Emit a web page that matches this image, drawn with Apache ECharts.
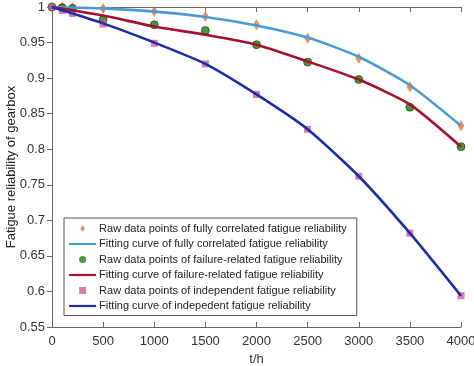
<!DOCTYPE html>
<html><head><meta charset="utf-8">
<script src="https://cdn.jsdelivr.net/npm/echarts@6/dist/echarts.min.js"></script>
<style>html,body{margin:0;padding:0;background:#fff}#c{width:474px;height:366px}</style>
</head><body><div id="c"></div>
<script>
var hours = [0,100,200,500,1000,1500,2000,2500,3000,3500,4000];
var rawFull = [1,1,0.999,0.998,0.9935,0.9865,0.975,0.956,0.928,0.888,0.833];
var rawFailure = [1,0.999,0.998,0.982,0.975,0.967,0.947,0.9225,0.898,0.859,0.8035];
var rawIndep = [1,0.995,0.991,0.976,0.949,0.92,0.877,0.828,0.762,0.682,0.594];
var fitHours = [0,500,1000,1500,2000,2500,3000,3500,4000];
var fitFull = [1,0.998,0.9935,0.986,0.974,0.957,0.930,0.890,0.833];
var fitFailure = [1,0.988,0.9725,0.961,0.947,0.9235,0.898,0.863,0.8035];
var fitIndep = [1,0.977,0.950,0.920,0.877,0.828,0.762,0.682,0.594];
var names = [
 'Raw data points of fully correlated fatigue reliability',
 'Fitting curve of fully correlated fatigue reliability',
 'Raw data points of failure-related fatigue reliability',
 'Fitting curve of failure-related fatigue reliability',
 'Raw data points of independent fatigue reliability',
 'Fitting curve of indepedent fatigue reliability'
];
function pairs(xs, ys){ return xs.map(function(x,i){return [x, ys[i]];}); }
var font = 'Liberation Sans, Arial, sans-serif';
var axisCol = '#666';
var hide = {color:'rgba(0,0,0,0)', borderWidth:0, opacity:0};
var legendData = [
  {name:names[0], icon:'path://M4,0L8,6L4,12L0,6Z', itemStyle:{color:'#e8782e', borderWidth:0}},
  {name:names[1], itemStyle:hide, lineStyle:{width:2.2}},
  {name:names[2], icon:'path://M5,0A5,5,0,1,1,5,10A5,5,0,1,1,5,0Z', itemStyle:{color:'#1d7a12', borderWidth:0}},
  {name:names[3], itemStyle:hide, lineStyle:{width:2.2}},
  {name:names[4], icon:'path://M0,0L10,0L10,10L0,10Z', itemStyle:{color:'#d8589c', borderWidth:0}},
  {name:names[5], itemStyle:hide, lineStyle:{width:2.2}}
];
var chart = echarts.init(document.getElementById('c'), null, {renderer:'canvas'});
chart.setOption({
  animation:false,
  grid:{left:52,right:13,top:7,bottom:39, containLabel:false, outerBoundsMode:'none'},
  legend:{
    orient:'vertical', left:64, top:218,
    data:legendData,
    itemWidth:27, itemHeight:7, itemGap:4.5,
    symbolKeepAspect:true,
    padding:[5,10,4,4],
    backgroundColor:'#fff', borderColor:'#555', borderWidth:1,
    textStyle:{fontFamily:font, fontSize:11, color:'#222', padding:[0,0,0,-2]}
  },
  xAxis:[{
    type:'value', min:0, max:4000, interval:500,
    name:'t/h', nameLocation:'middle', nameGap:26,
    nameTextStyle:{fontFamily:font, fontSize:13, color:'#333'},
    axisLine:{lineStyle:{color:axisCol}},
    axisTick:{inside:true, length:5, lineStyle:{color:axisCol}},
    axisLabel:{fontFamily:font, fontSize:13, color:'#333', margin:8, formatter:function(v){return String(v);}},
    splitLine:{show:false}
  },{
    type:'value', min:0, max:4000, interval:500, position:'top',
    axisLine:{lineStyle:{color:axisCol}},
    axisTick:{inside:true, length:5, lineStyle:{color:axisCol}},
    axisLabel:{show:false}, splitLine:{show:false}
  }],
  yAxis:[{
    type:'value', min:0.55, max:1, interval:0.05,
    name:'Fatigue reliability of gearbox', nameLocation:'middle', nameGap:34, nameMoveOverlap:false,
    nameTextStyle:{fontFamily:font, fontSize:13, color:'#222'},
    axisLine:{show:true, lineStyle:{color:axisCol}},
    axisTick:{show:true, inside:false, length:4, lineStyle:{color:axisCol}},
    axisLabel:{fontFamily:font, fontSize:13, color:'#333', margin:7, formatter:function(v){return String(Math.round(v*100)/100);}},
    splitLine:{show:false}
  },{
    type:'value', min:0.55, max:1, interval:0.05, position:'right',
    axisLine:{show:true, lineStyle:{color:axisCol}},
    axisTick:{show:true, inside:true, length:5, lineStyle:{color:axisCol}},
    axisLabel:{show:false}, splitLine:{show:false}
  }],
  series:[
    {name:names[0], type:'scatter', symbol:'diamond', symbolSize:[7,11], z:2,
     itemStyle:{color:'#e8782e'}, data:pairs(hours, rawFull)},
    {name:names[2], type:'scatter', symbol:'circle', symbolSize:8, z:2,
     itemStyle:{color:'#1d7a12', borderColor:'#0d3d08', borderWidth:0.8}, data:pairs(hours, rawFailure)},
    {name:names[4], type:'scatter', symbol:'rect', symbolSize:7, z:2,
     itemStyle:{color:'#d8589c'}, data:pairs(hours, rawIndep)},
    {name:names[1], type:'line', smooth:0.2, symbol:'none', z:3,
     lineStyle:{color:'#4a9ad6', width:2.6}, itemStyle:{color:'#4a9ad6'}, data:pairs(fitHours, fitFull)},
    {name:names[3], type:'line', smooth:0.2, symbol:'none', z:3,
     lineStyle:{color:'#a3122c', width:2.6}, itemStyle:{color:'#a3122c'}, data:pairs(fitHours, fitFailure)},
    {name:names[5], type:'line', smooth:0.2, symbol:'none', z:3,
     lineStyle:{color:'#1b2ea8', width:2.6}, itemStyle:{color:'#1b2ea8'}, data:pairs(fitHours, fitIndep)}
  ]
});
</script></body></html>
